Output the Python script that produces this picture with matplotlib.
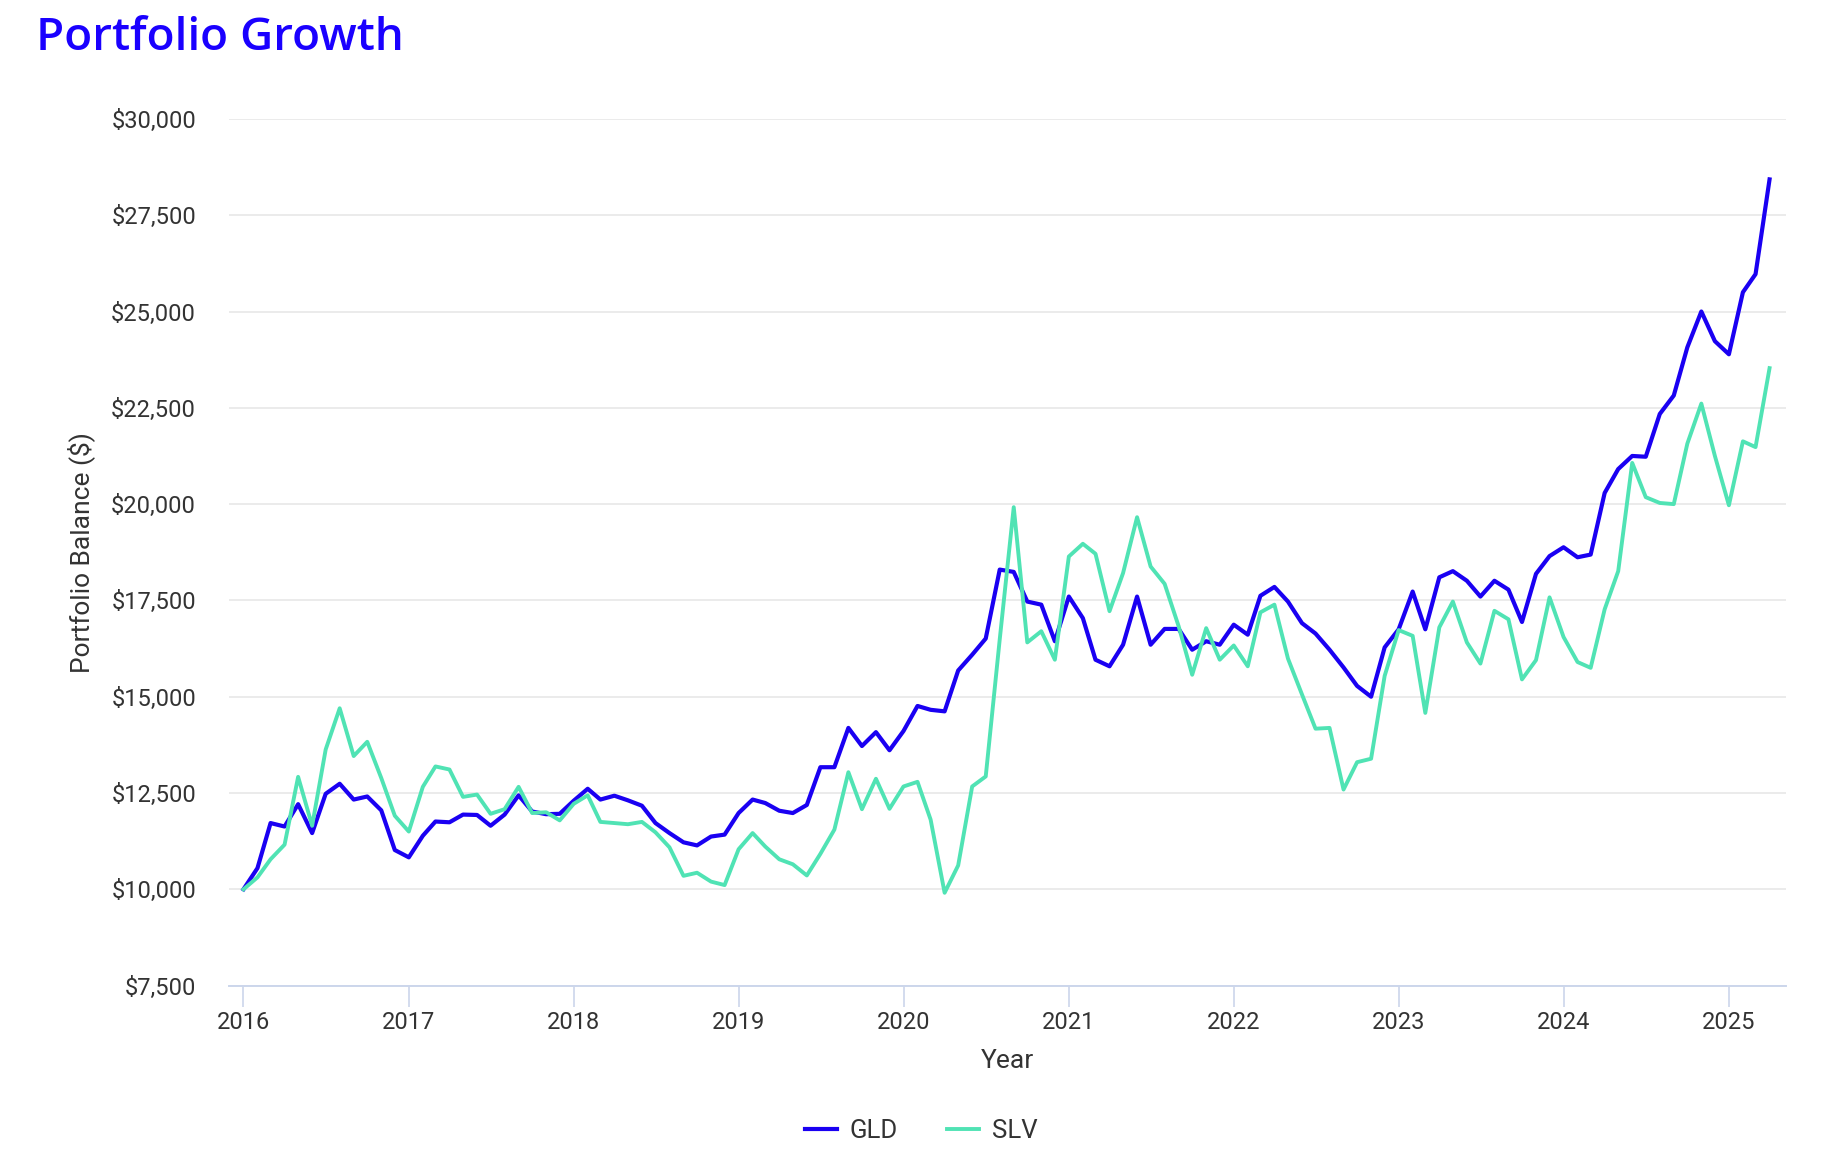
import numpy as np
import pandas as pd
import matplotlib
matplotlib.use('Agg')
import matplotlib.pyplot as plt
import matplotlib.dates as mdates
from matplotlib.ticker import FuncFormatter, MultipleLocator

# monthly balances, Jan 2016 .. Apr 2025
dates = pd.date_range('2016-01-01', periods=112, freq='MS')

gld = [10000, 10550, 11720, 11630, 12210, 11460, 12480, 12740, 12330, 12410,
       12050, 11020, 10830, 11390, 11760, 11740, 11940, 11930, 11650, 11940,
       12440, 12020, 11950, 11960, 12300, 12610, 12330, 12430, 12310, 12170,
       11720, 11460, 11220, 11140, 11370, 11420, 11980, 12330, 12240, 12040,
       11980, 12190, 13170, 13170, 14190, 13720, 14080, 13610, 14110, 14760,
       14660, 14620, 15680, 16090, 16510, 18300, 18240, 17470, 17390, 16440,
       17600, 17040, 15960, 15790, 16350, 17600, 16350, 16760, 16760, 16220,
       16440, 16350, 16870, 16610, 17620, 17850, 17470, 16910, 16640, 16220,
       15760, 15280, 15000, 16280, 16750, 17730, 16750, 18100, 18260, 18010,
       17600, 18010, 17780, 16940, 18190, 18650, 18880, 18620, 18690, 20290,
       20910, 21250, 21230, 22340, 22820, 24070, 25000, 24230, 23890, 25500,
       25970, 28430]

slv = [10000, 10310, 10780, 11160, 12920, 11650, 13630, 14700, 13460, 13830,
       12890, 11910, 11500, 12660, 13190, 13110, 12400, 12460, 11960, 12080,
       12660, 11980, 12000, 11790, 12220, 12440, 11750, 11720, 11690, 11750,
       11480, 11090, 10350, 10430, 10200, 10110, 11040, 11460, 11110, 10780,
       10650, 10360, 10920, 11550, 13040, 12080, 12870, 12090, 12670, 12790,
       11810, 9910, 10620, 12670, 12930, 16490, 19920, 16410, 16700, 15960,
       18640, 18970, 18710, 17220, 18210, 19660, 18380, 17930, 16830, 15570,
       16780, 15960, 16330, 15790, 17190, 17390, 15990, 15060, 14170, 14190,
       12590, 13300, 13390, 15540, 16730, 16580, 14580, 16800, 17470, 16410,
       15860, 17230, 17010, 15450, 15950, 17580, 16550, 15900, 15750, 17270,
       18260, 21070, 20180, 20030, 20000, 21570, 22610, 21250, 19970, 21630,
       21480, 23530]

series_names = ['GLD', 'SLV']

plt.rcParams['font.family'] = ['Roboto', 'DejaVu Sans']
text_col = '#333333'

fig = plt.figure(figsize=(18.46, 11.59), dpi=100)
ax = fig.add_axes([0.1243, 0.1496, 0.8431, 0.7478])

ax.plot(dates, gld, color='#1a00f2', lw=3.0, label=series_names[0], solid_joinstyle='round')
ax.plot(dates, slv, color='#50e3b4', lw=2.8, label=series_names[1], solid_joinstyle='round')

ax.set_ylim(7500, 30000)
ax.yaxis.set_major_locator(MultipleLocator(2500))
ax.yaxis.set_major_formatter(FuncFormatter(lambda v, p: '${:,.0f}'.format(v)))
ax.set_xlim(pd.Timestamp('2015-12-01'), pd.Timestamp('2025-05-07'))
ax.xaxis.set_major_locator(mdates.YearLocator())
ax.xaxis.set_major_formatter(mdates.DateFormatter('%Y'))

ax.grid(axis='y', color='#e6e6e6', lw=1.1)
ax.set_axisbelow(True)
for s in ['top', 'right', 'left']:
    ax.spines[s].set_visible(False)
ax.spines['bottom'].set_color('#ccd6eb')
ax.spines['bottom'].set_linewidth(1.4)

ax.tick_params(axis='y', length=0, pad=24, labelsize=17, labelcolor=text_col)
ax.tick_params(axis='x', length=15, width=1.2, color='#ccd6eb', pad=3,
               labelsize=17, labelcolor=text_col)

ax.set_xlabel('Year', fontsize=19, color=text_col, labelpad=11)
ax.set_ylabel('Portfolio Balance ($)', fontsize=19, color=text_col, labelpad=12)

fig.text(36 / 1846, 1 - 50 / 1159, 'Portfolio Growth', fontsize=33,
         color='#1a00ff', family=['Open Sans', 'DejaVu Sans'], weight='semibold',
         va='baseline')

fig.legend(loc='center', bbox_to_anchor=(0.499, 1 - 1131 / 1159), ncol=2,
           frameon=False, fontsize=18.5, handlelength=1.25, handletextpad=0.5,
           columnspacing=1.9, labelcolor=text_col)

fig.savefig('out.png', dpi=100, facecolor='white')
